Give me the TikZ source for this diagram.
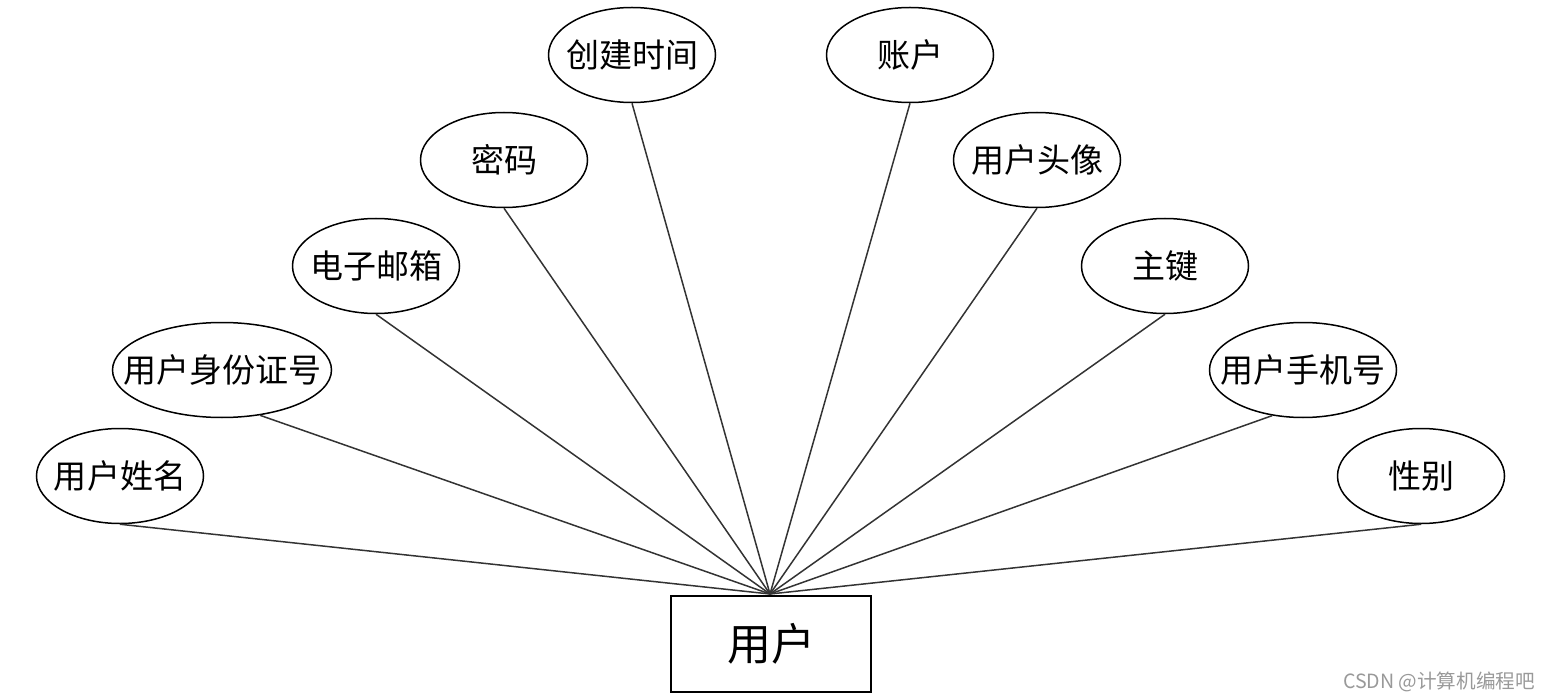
\documentclass[tikz,border=0pt]{standalone}
\usepackage{fontspec}
\setmainfont{Noto Sans CJK SC}
\usetikzlibrary{shapes.geometric}
\begin{document}
\begin{tikzpicture}[x=0.5pt, y=-0.5pt,
    atributo/.style={draw, ellipse, line width=0.75pt, minimum width=83.5pt, minimum height=47.5pt,
        inner sep=0pt, label={[font=\fontsize{16.5}{16.5}\selectfont]center:#1}},
    entidad/.style={draw, rectangle, line width=0.9pt, minimum width=100pt, minimum height=48pt,
        inner sep=0pt, font=\fontsize{22}{22}\selectfont},
    enlace/.style={line width=0.75pt, black!80}]
    \useasboundingbox (0,0) rectangle (1557,700);

    % entidad central
    \node[entidad] (usuario) at (771,644) {用户};
    \coordinate (centro) at (770,594);

    % atributos a la izquierda
    \node[atributo=用户姓名] (nombre) at (120,476) {};
    \node[atributo=用户身份证号, minimum width=109.5pt] (identidad) at (222,370) {};
    \node[atributo=电子邮箱] (correo) at (376,266) {};
    \node[atributo=密码] (clave) at (504,160) {};
    \node[atributo=创建时间] (creacion) at (632,55) {};

    % atributos a la derecha
    \node[atributo=账户] (cuenta) at (910,55) {};
    \node[atributo=用户头像] (avatar) at (1037,160) {};
    \node[atributo=主键] (llave) at (1165,266) {};
    \node[atributo=用户手机号, minimum width=93.5pt] (movil) at (1303,370) {};
    \node[atributo=性别] (sexo) at (1421,476) {};

    % enlaces al centro
    \draw[enlace] (nombre.south) -- (centro);
    \draw[enlace] (identidad.-50) -- (centro);
    \draw[enlace] (correo.south) -- (centro);
    \draw[enlace] (clave.south) -- (centro);
    \draw[enlace] (creacion.south) -- (centro);
    \draw[enlace] (cuenta.south) -- (centro);
    \draw[enlace] (avatar.south) -- (centro);
    \draw[enlace] (llave.south) -- (centro);
    \draw[enlace] (movil.-124) -- (centro);
    \draw[enlace] (sexo.south) -- (centro);

    % marca de agua
    \node[font=\fontsize{9.8}{9.8}\selectfont, text=gray!80, anchor=east] (marca) at (1542,682) {CSDN @计算机编程吧};
\end{tikzpicture}
\end{document}
